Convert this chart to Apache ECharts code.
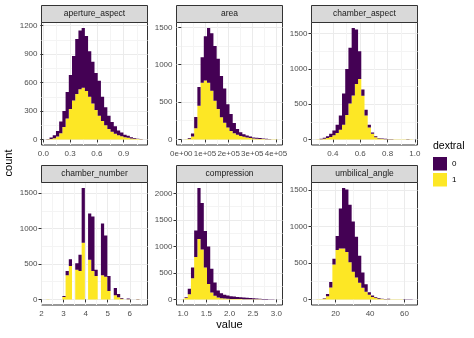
<!DOCTYPE html>
<html>
<head>
<meta charset="utf-8">
<script src="https://cdn.jsdelivr.net/npm/echarts@6/dist/echarts.min.js"></script>
<style>
  html, body { margin: 0; padding: 0; background: #fff; }
  #chart { width: 474px; height: 338px; }
</style>
</head>
<body>
<div id="chart"></div>
<script>
// histogram bins: first edge, bin width, counts per dextral group (0 = purple, 1 = yellow)
const apertureStart = 0.034, apertureWidth = 0.036;
const aperture1 = [1, 4, 12, 30, 65, 130, 220, 320, 410, 480, 530, 545, 510, 450, 380, 310, 250, 195, 150, 110, 80, 60, 45, 33, 24, 17, 11, 7, 4, 2];
const aperture0 = [3, 16, 33, 60, 125, 170, 280, 360, 470, 580, 620, 630, 580, 480, 440, 390, 370, 255, 190, 140, 105, 80, 50, 39, 26, 21, 13, 7, 4, 2];
const apertureTicks = [0, 0.3, 0.6, 0.9];
const apertureCountTicks = [0, 300, 600, 900, 1200];

const areaStart = 0, areaWidth = 13570;
const area1 = [0, 1, 10, 40, 150, 450, 760, 790, 760, 650, 517, 408, 298, 224, 158, 114, 83, 61, 45, 35, 26, 19, 13, 10, 7, 5, 3, 2, 1, 1];
const area0 = [0, 1, 10, 40, 150, 250, 340, 590, 730, 770, 733, 672, 552, 456, 312, 226, 137, 79, 50, 35, 26, 19, 14, 12, 11, 8, 7, 4, 3, 1];
const areaTicks = [0, 100000, 200000, 300000, 400000];
const areaCountTicks = [0, 500, 1000, 1500];

const chamberAspectStart = 0.279, chamberAspectWidth = 0.0235;
const chamberAspect1 = [1, 4, 10, 20, 35, 60, 93, 139, 208, 347, 509, 625, 787, 857, 620, 340, 170, 80, 30, 12, 7, 4, 3, 3, 2, 2, 1, 1, 2, 1];
const chamberAspect0 = [2, 5, 13, 26, 44, 65, 117, 201, 442, 653, 791, 955, 773, 393, 90, 80, 40, 20, 15, 8, 5, 4, 3, 2, 2, 1, 2, 1, 4, 1];
const chamberAspectTicks = [0.4, 0.6, 0.8, 1.0];
const chamberAspectCountTicks = [0, 500, 1000, 1500];

const chamberNumberStart = 2.218, chamberNumberWidth = 0.1455;
const chamberNumber1 = [1, 0, 0, 0, 0, 35, 340, 470, 0, 420, 400, 800, 0, 560, 400, 330, 0, 340, 320, 120, 0, 60, 30, 8, 0, 4, 0, 0, 2, 0];
const chamberNumber0 = [0, 0, 0, 0, 0, 15, 60, 95, 0, 90, 230, 770, 0, 650, 770, 90, 0, 730, 580, 210, 0, 100, 45, 12, 0, 8, 0, 0, 3, 0];
const chamberNumberTicks = [2, 3, 4, 5, 6];
const chamberNumberCountTicks = [0, 500, 1000, 1500];

const compressionStart = 0.965, compressionWidth = 0.0688;
const compression1 = [3, 25, 100, 400, 800, 1140, 940, 600, 290, 130, 68, 35, 22, 16, 12, 10, 8, 7, 6, 5, 4, 3, 3, 2, 2, 1, 1, 1, 0, 0];
const compression0 = [2, 15, 100, 200, 500, 960, 880, 690, 710, 450, 252, 135, 93, 74, 63, 52, 45, 39, 34, 30, 26, 23, 19, 16, 12, 9, 6, 3, 2, 1];
const compressionTicks = [1.0, 1.5, 2.0, 2.5, 3.0];
const compressionCountTicks = [0, 500, 1000, 1500, 2000];

const umbilicalStart = 8.8, umbilicalWidth = 1.864;
const umbilical1 = [1, 3, 10, 45, 165, 480, 680, 700, 700, 650, 510, 380, 300, 230, 160, 105, 65, 32, 18, 10, 5, 4, 4, 2, 1, 1, 1, 0, 0, 0];
const umbilical0 = [1, 1, 5, 30, 75, 80, 190, 550, 830, 860, 790, 690, 560, 370, 210, 105, 35, 23, 12, 8, 5, 3, 5, 2, 2, 1, 0, 1, 1, 1];
const umbilicalTicks = [20, 40, 60];
const umbilicalCountTicks = [0, 500, 1000, 1500];

const oneDecimal = v => v.toFixed(1);
const plain = v => String(v);
const sci = v => {
  const parts = v.toExponential(0).split('e');
  const exp = parts[1];
  return parts[0] + 'e' + exp[0] + exp.slice(1).padStart(2, '0');
};

const panels = [
  { name: 'aperture_aspect', start: apertureStart, width: apertureWidth, d0: aperture0, d1: aperture1, xTicks: apertureTicks, yTicks: apertureCountTicks, fmt: oneDecimal },
  { name: 'area', start: areaStart, width: areaWidth, d0: area0, d1: area1, xTicks: areaTicks, yTicks: areaCountTicks, fmt: sci },
  { name: 'chamber_aspect', start: chamberAspectStart, width: chamberAspectWidth, d0: chamberAspect0, d1: chamberAspect1, xTicks: chamberAspectTicks, yTicks: chamberAspectCountTicks, fmt: oneDecimal },
  { name: 'chamber_number', start: chamberNumberStart, width: chamberNumberWidth, d0: chamberNumber0, d1: chamberNumber1, xTicks: chamberNumberTicks, yTicks: chamberNumberCountTicks, fmt: plain },
  { name: 'compression', start: compressionStart, width: compressionWidth, d0: compression0, d1: compression1, xTicks: compressionTicks, yTicks: compressionCountTicks, fmt: oneDecimal },
  { name: 'umbilical_angle', start: umbilicalStart, width: umbilicalWidth, d0: umbilical0, d1: umbilical1, xTicks: umbilicalTicks, yTicks: umbilicalCountTicks, fmt: plain }
];

const PURPLE = '#440154';
const YELLOW = '#FDE725';
const FONT = 'Liberation Sans';

// layout of the facets
const colLeft = [41.5, 176.5, 311.5];
const rowTop = [22.5, 182.5];
const panelW = 106, panelH = 122.5, stripH = 17;

// ggplot style minor breaks: midpoints of majors, extended one step each side
function minorBreaks(ticks, lo, hi) {
  const step = ticks[1] - ticks[0];
  const ext = [ticks[0] - step].concat(ticks, [ticks[ticks.length - 1] + step]);
  const out = [];
  for (let i = 0; i < ext.length - 1; i++) {
    const m = (ext[i] + ext[i + 1]) / 2;
    if (m > lo && m < hi) out.push(m);
  }
  return out;
}

// the whole stacked layer is drawn as one step-shaped polygon (no seams between bins);
// rows are [x0, x1, bottom, top] and every corner goes through api.coord
function renderLayer(rows, color) {
  return function (params, api) {
    if (params.dataIndex !== 0) return;
    const pts = [];
    rows.forEach(r => {
      pts.push(api.coord([r[0], r[3]]));
      pts.push(api.coord([r[1], r[3]]));
    });
    for (let k = rows.length - 1; k >= 0; k--) {
      const r = rows[k];
      pts.push(api.coord([r[1], r[2]]));
      pts.push(api.coord([r[0], r[2]]));
    }
    return { type: 'polygon', shape: { points: pts }, style: { fill: color } };
  };
}

const grids = [], xMain = [], yMain = [], xMinor = [], yMinor = [], series = [], graphics = [];

panels.forEach((p, i) => {
  const left = colLeft[i % 3], top = rowTop[Math.floor(i / 3)];
  const n = p.d0.length;
  const xmin = p.start - 1.5 * p.width;
  const xmax = p.start + (n + 1.5) * p.width;
  const totals = p.d0.map((v, k) => v + p.d1[k]);
  const ymaxData = Math.max.apply(null, totals);
  const ymin = -0.05 * ymaxData, ymax = 1.05 * ymaxData;

  grids.push({ left: left, top: top, width: panelW, height: panelH, show: true, backgroundColor: '#fff', borderColor: '#333333', borderWidth: 1 });

  xMain.push({
    gridIndex: i, type: 'value', min: xmin, max: xmax, z: 0,
    axisLine: { show: false },
    axisTick: { show: true, length: 3, lineStyle: { color: '#333333' }, customValues: p.xTicks },
    axisLabel: { customValues: p.xTicks, formatter: p.fmt, fontSize: 8, fontFamily: FONT, color: '#4D4D4D', margin: 5 },
    splitLine: { show: true, lineStyle: { color: '#EBEBEB', width: 1 } }
  });
  yMain.push({
    gridIndex: i, type: 'value', min: ymin, max: ymax, z: 0,
    axisLine: { show: false },
    axisTick: { show: true, length: 3, lineStyle: { color: '#333333' }, customValues: p.yTicks },
    axisLabel: { customValues: p.yTicks, formatter: plain, fontSize: 8, fontFamily: FONT, color: '#4D4D4D', margin: 4 },
    splitLine: { show: true, lineStyle: { color: '#EBEBEB', width: 1 } }
  });
  const xm = minorBreaks(p.xTicks, xmin, xmax);
  const ym = minorBreaks(p.yTicks, ymin, ymax);
  xMinor.push({
    gridIndex: i, type: 'value', min: xmin, max: xmax, z: 0,
    axisLine: { show: false }, axisLabel: { show: false },
    axisTick: { show: false, customValues: xm },
    splitLine: { show: true, lineStyle: { color: '#F4F4F4', width: 1 } }
  });
  yMinor.push({
    gridIndex: i, type: 'value', min: ymin, max: ymax, z: 0,
    axisLine: { show: false }, axisLabel: { show: false },
    axisTick: { show: false, customValues: ym },
    splitLine: { show: true, lineStyle: { color: '#F4F4F4', width: 1 } }
  });

  const yellowRows = p.d1.map((v, k) => [p.start + k * p.width, p.start + (k + 1) * p.width, 0, v]);
  const purpleRows = p.d0.map((v, k) => [p.start + k * p.width, p.start + (k + 1) * p.width, p.d1[k], p.d1[k] + v]);
  series.push({
    type: 'custom', name: '1', xAxisIndex: i, yAxisIndex: i, z: 5,
    renderItem: renderLayer(yellowRows, YELLOW), encode: { x: [0, 1], y: [2, 3] }, data: yellowRows
  });
  series.push({
    type: 'custom', name: '0', xAxisIndex: i, yAxisIndex: i, z: 6,
    renderItem: renderLayer(purpleRows, PURPLE), encode: { x: [0, 1], y: [2, 3] }, data: purpleRows
  });

  // facet strip
  graphics.push({
    type: 'rect', z: 10,
    shape: { x: left, y: top - stripH, width: panelW, height: stripH },
    style: { fill: '#D9D9D9', stroke: '#333333', lineWidth: 1 }
  });
  graphics.push({
    type: 'text', z: 11, x: left + panelW / 2, y: top - stripH / 2,
    style: { text: p.name, fontSize: 8.5, fontFamily: FONT, fill: '#1A1A1A', align: 'center', verticalAlign: 'middle', textAlign: 'center', textVerticalAlign: 'middle' }
  });
});

// axis titles
graphics.push({
  type: 'text', x: 9, y: 163, rotation: Math.PI / 2,
  style: { text: 'count', fontSize: 11, fontFamily: FONT, fill: '#000', align: 'center', verticalAlign: 'middle', textAlign: 'center', textVerticalAlign: 'middle' }
});
graphics.push({
  type: 'text', x: 229.5, y: 325,
  style: { text: 'value', fontSize: 11, fontFamily: FONT, fill: '#000', align: 'center', verticalAlign: 'middle', textAlign: 'center', textVerticalAlign: 'middle' }
});

// legend
graphics.push({
  type: 'text', x: 433, y: 146,
  style: { text: 'dextral', fontSize: 10.5, fontFamily: FONT, fill: '#000', align: 'left', verticalAlign: 'middle', textAlign: 'left', textVerticalAlign: 'middle' }
});
[['0', PURPLE, 157], ['1', YELLOW, 173]].forEach(([label, color, y]) => {
  graphics.push({ type: 'rect', shape: { x: 433, y: y, width: 14, height: 13.5 }, style: { fill: color } });
  graphics.push({
    type: 'text', x: 452, y: y + 7,
    style: { text: label, fontSize: 8, fontFamily: FONT, fill: '#000', align: 'left', verticalAlign: 'middle', textAlign: 'left', textVerticalAlign: 'middle' }
  });
});

const chart = echarts.init(document.getElementById('chart'), null, { renderer: 'canvas' });
// minor axes share the grids of the main axes (indices 6..11)
chart.setOption({
  animation: false,
  backgroundColor: '#fff',
  grid: grids,
  xAxis: xMain.concat(xMinor),
  yAxis: yMain.concat(yMinor),
  series: series,
  graphic: { elements: graphics }
});
</script>
</body>
</html>
